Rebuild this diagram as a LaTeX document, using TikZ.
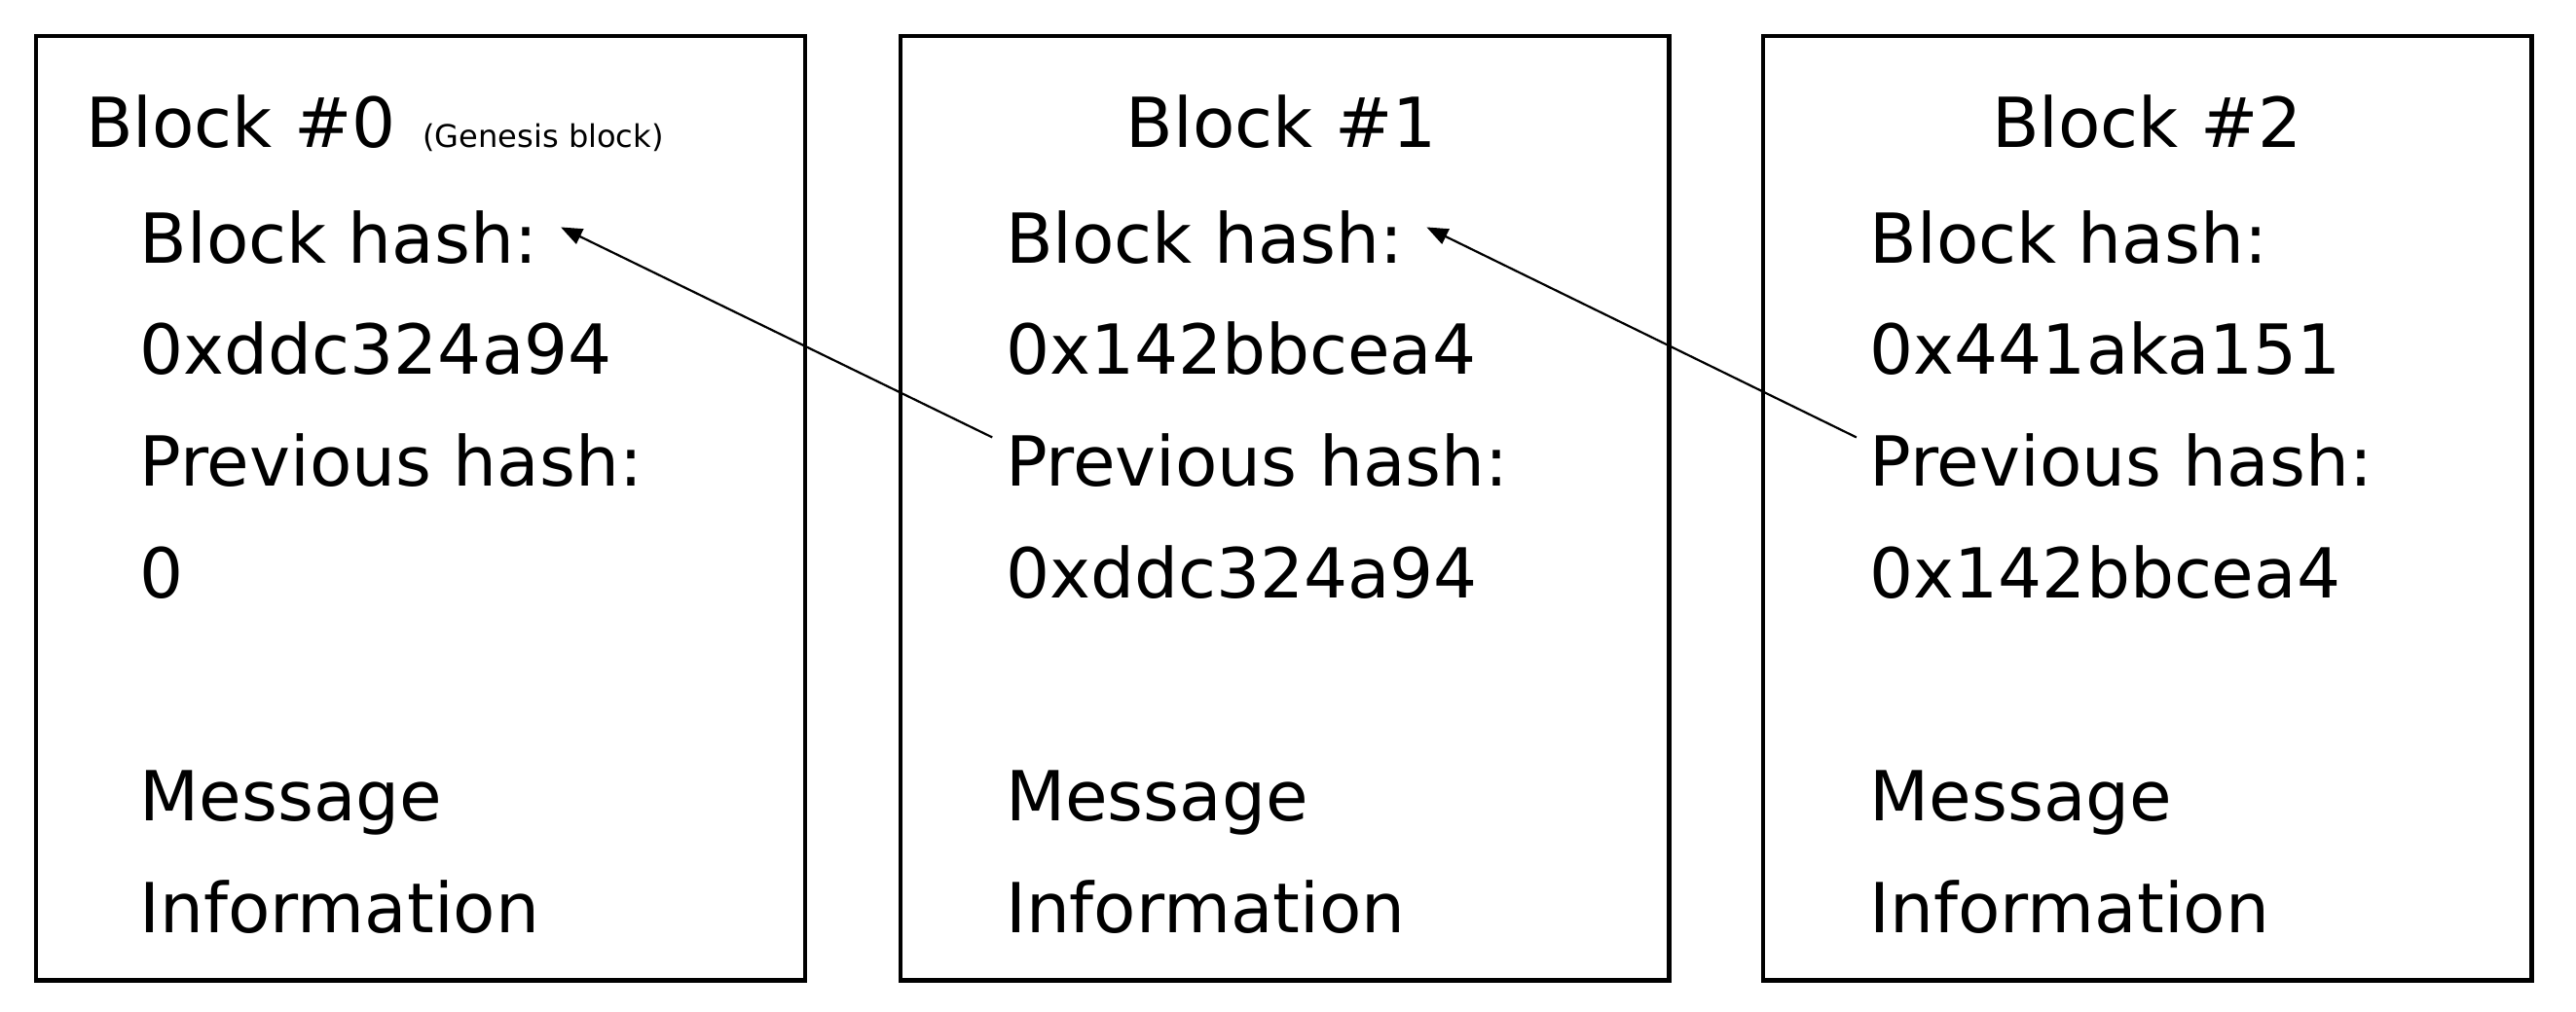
\documentclass[tikz,border=0pt]{standalone}
\usepackage{fontspec}
\setmainfont{DejaVu Sans}
\usetikzlibrary{arrows.meta}
\begin{document}
\begin{tikzpicture}[x=1pt,y=-1pt,
  box/.style={draw,line width=2.5pt},
  t/.style={anchor=base west,inner sep=0pt,font=\fontsize{42}{42}\selectfont},
  ttl/.style={anchor=base,inner sep=0pt,font=\fontsize{42}{42}\selectfont},
  link/.style={line width=1.3pt,-{Triangle[length=13pt,width=10pt]}}]
\useasboundingbox (0,0) rectangle (1568,616);
\foreach \x/\n in {22/a,548/b,1073/c}{
  \draw[box] (\x,22) rectangle (\x+468,597);
}
% box 0
\node[t] (a0) at (52,90) {Block \#0};
\node[anchor=base west,inner sep=0pt,font=\fontsize{19}{19}\selectfont] (ag) at ([xshift=16pt]a0.base east) {(Genesis block)};
\node[t] (a1) at (85,160) {Block hash:};
\node[t] (a2) at (85,228) {0xddc324a94};
\node[t] (a3) at (85,296) {Previous hash:};
\node[t] (a4) at (85,364) {0};
\node[t] (a5) at (85,500) {Message};
\node[t] (a6) at (85,568) {Information};
% box 1
\node[ttl] (b0) at (780,90) {Block \#1};
\node[t] (b1) at (612,160) {Block hash:};
\node[t] (b2) at (612,228) {0x142bbcea4};
\node[t] (b3) at (612,296) {Previous hash:};
\node[t] (b4) at (612,364) {0xddc324a94};
\node[t] (b5) at (612,500) {Message};
\node[t] (b6) at (612,568) {Information};
% box 2
\node[ttl] (c0) at (1307,90) {Block \#2};
\node[t] (c1) at (1138,160) {Block hash:};
\node[t] (c2) at (1138,228) {0x441aka151};
\node[t] (c3) at (1138,296) {Previous hash:};
\node[t] (c4) at (1138,364) {0x142bbcea4};
\node[t] (c5) at (1138,500) {Message};
\node[t] (c6) at (1138,568) {Information};
\draw[link] ([shift={(-8,0)}]b3.west) ++(0,-14) -- ([shift={(14,-6)}]a1.east);
\draw[link] ([shift={(-8,0)}]c3.west) ++(0,-14) -- ([shift={(14,-6)}]b1.east);
\end{tikzpicture}
\end{document}
